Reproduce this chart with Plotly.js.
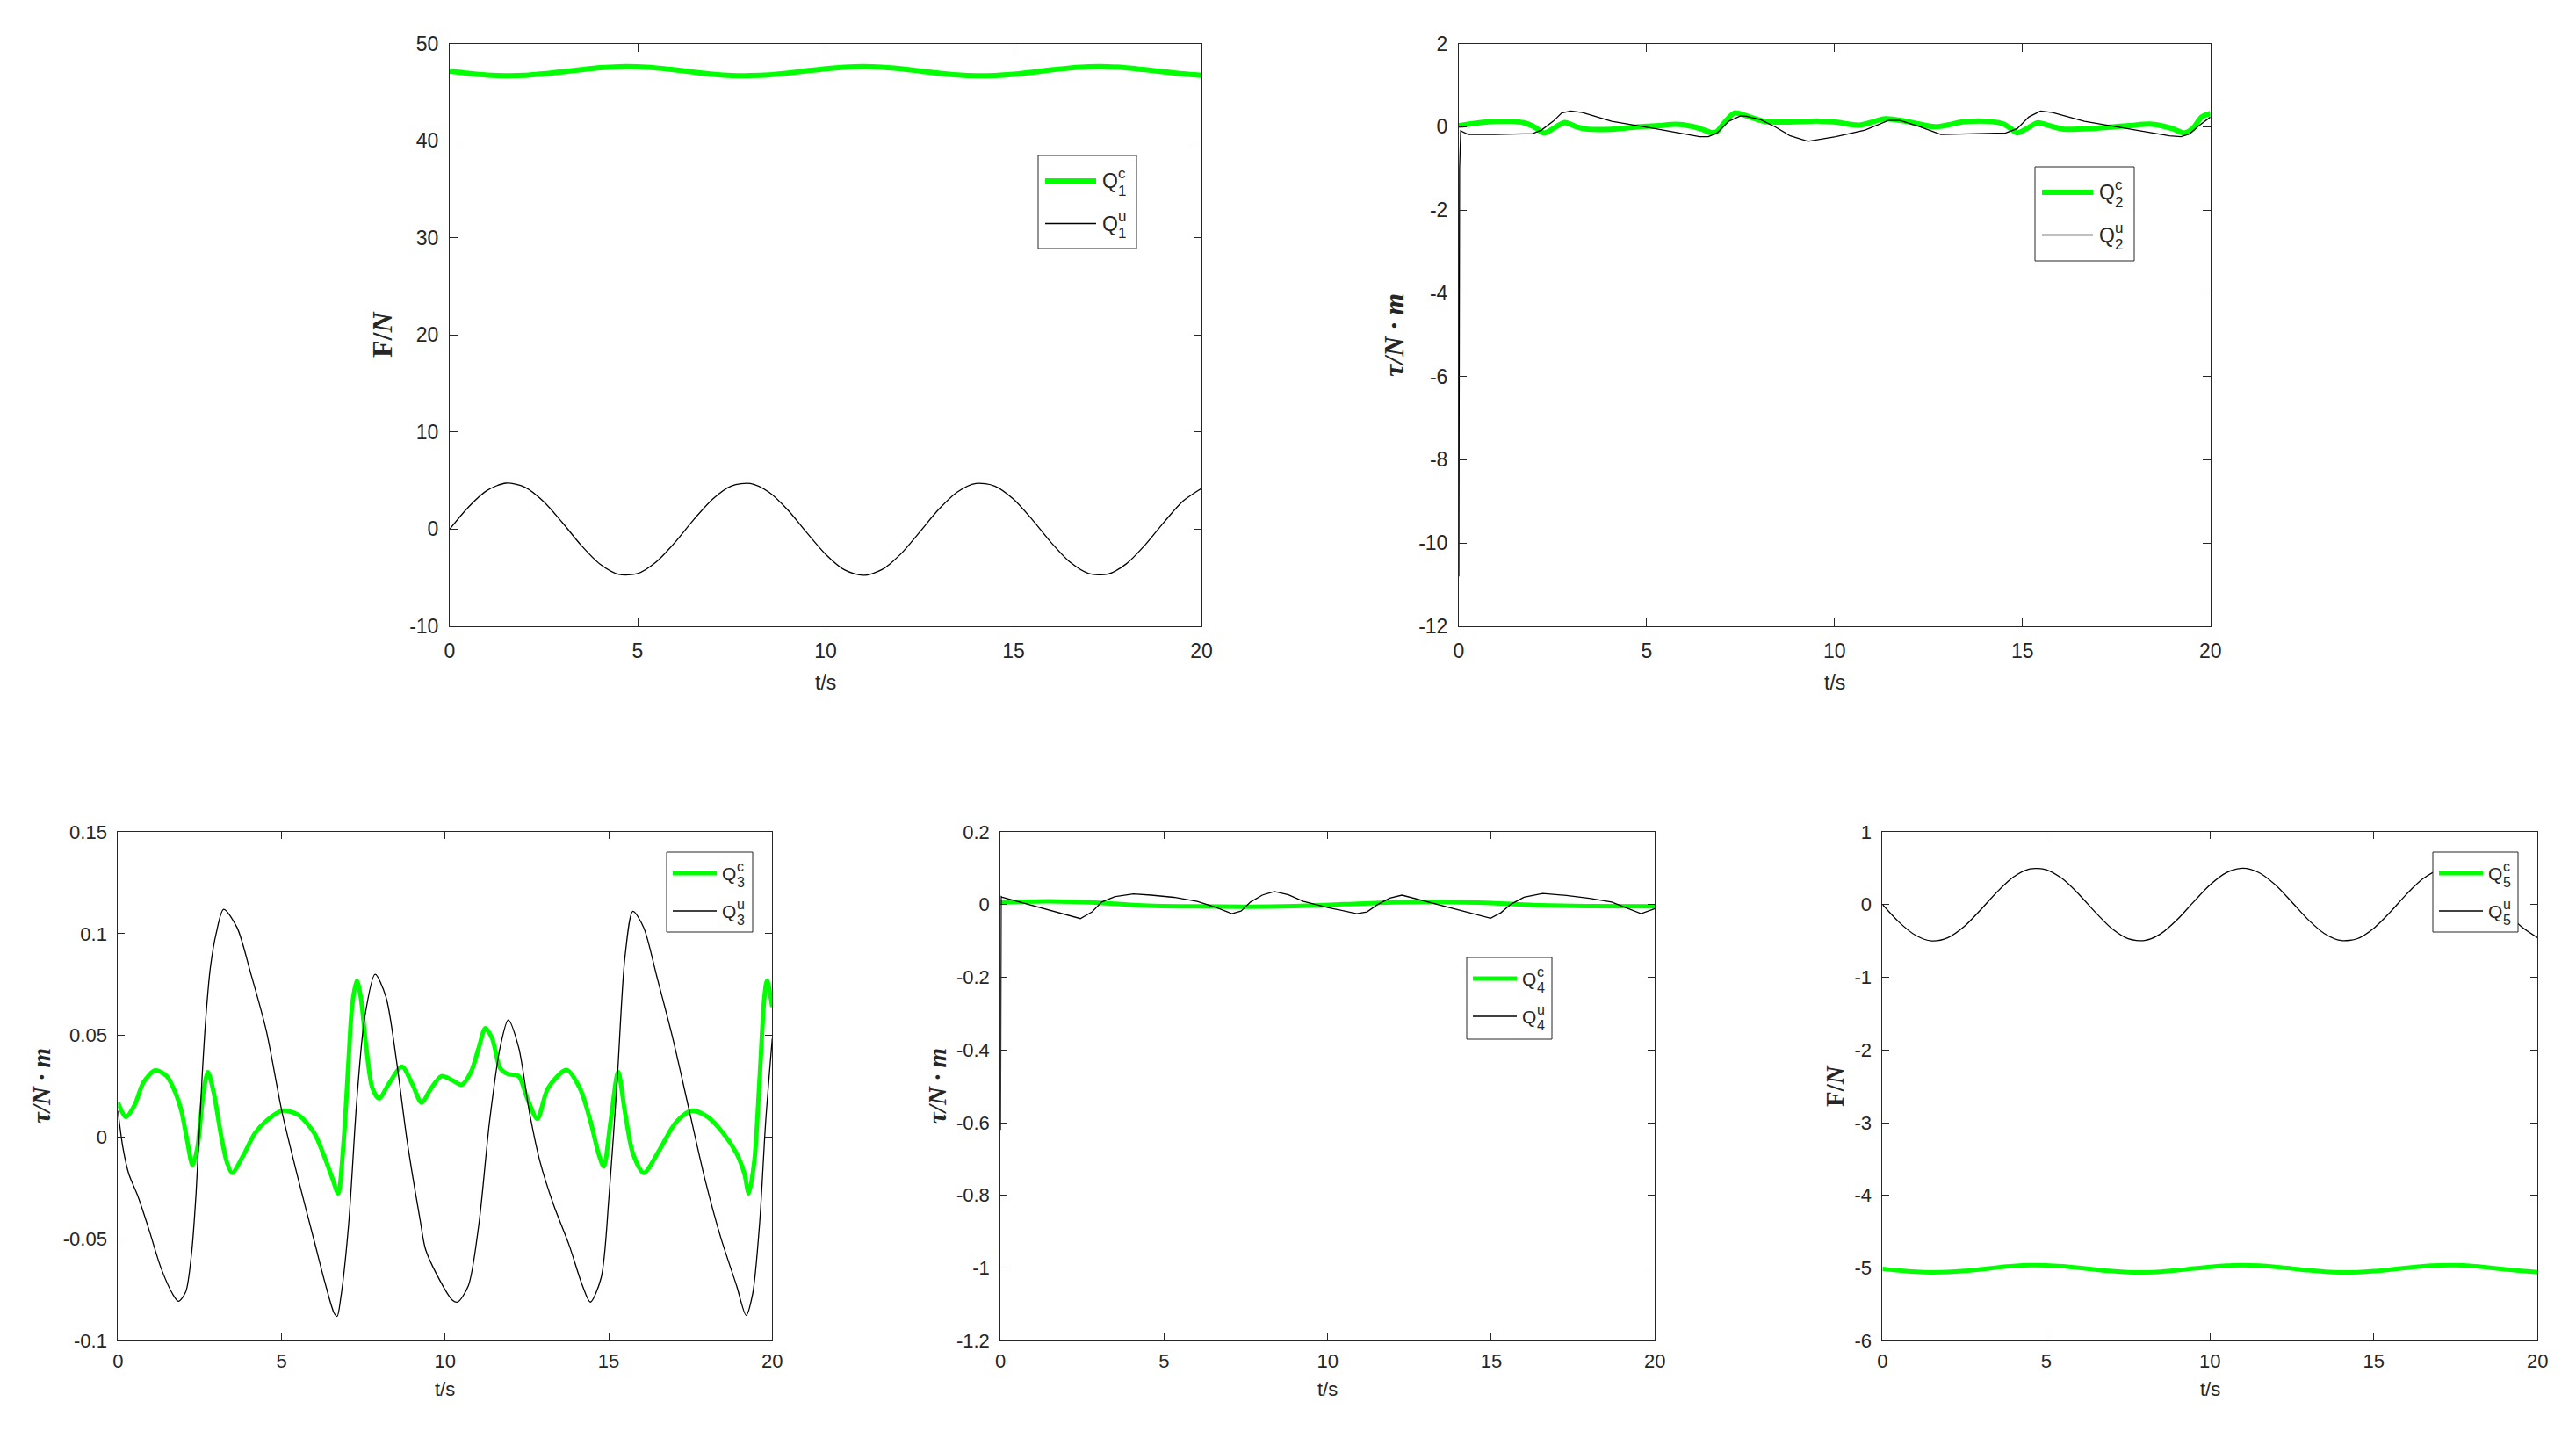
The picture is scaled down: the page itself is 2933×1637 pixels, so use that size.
<!DOCTYPE html>
<html><head><meta charset="utf-8">
<script src="https://cdn.plot.ly/plotly-3.0.1.min.js"></script>
<style>html,body{margin:0;padding:0;background:#fff;overflow:hidden}</style>
</head><body><div id="chart" style="width:2933px;height:1637px"></div>
<script>
// ---------------- DATA ----------------
const t1 = [0,0.5,1,1.5,2,2.5,3,3.5,4,4.5,5,5.5,6,6.5,7,7.5,8,8.5,9,9.5,10,10.5,11,11.5,12,12.5,13,13.5,14,14.5,15,15.5,16,16.5,17,17.5,18,18.5,19,19.5,20];
const q1c = [47.15,46.92,46.75,46.68,46.72,46.87,47.08,47.31,47.51,47.61,47.6,47.48,47.28,47.05,46.84,46.71,46.69,46.77,46.96,47.19,47.41,47.56,47.62,47.56,47.4,47.18,46.95,46.77,46.68,46.71,46.84,47.05,47.29,47.48,47.6,47.61,47.5,47.31,47.08,46.87,46.72];
const q1u = [0,2.28,4.0,4.74,4.32,2.84,0.67,-1.67,-3.6,-4.65,-4.56,-3.35,-1.33,1.02,3.12,4.46,4.7,3.79,1.96,-0.36,-2.58,-4.18,-4.75,-4.16,-2.55,-0.31,2.0,3.82,4.71,4.44,3.09,0.98,-1.37,-3.38,-4.56,-4.64,-3.57,-1.62,0.71,2.87,4.2];

const t2c = [0,0.5,1.03,1.4,1.73,2.0,2.27,2.51,2.82,3.13,3.44,4.07,4.69,5.31,5.78,6.25,6.5,6.72,6.87,7.03,7.34,7.65,8.12,8.59,9.0,9.52,10.03,10.65,11.35,11.9,12.68,13.46,14.08,14.47,14.7,14.86,15.1,15.41,15.64,16.11,16.88,17.82,18.45,18.99,19.3,19.53,19.77,20];
const q2c = [0.025,0.09,0.13,0.13,0.095,0.0,-0.15,-0.045,0.10,0.0,-0.06,-0.06,-0.01,0.025,0.06,0.0,-0.07,-0.14,-0.115,0.06,0.33,0.26,0.13,0.11,0.12,0.14,0.11,0.04,0.19,0.13,0.0,0.12,0.13,0.074,-0.05,-0.15,-0.05,0.095,0.046,-0.06,-0.04,0.025,0.06,-0.045,-0.15,-0.045,0.235,0.32];
const t2u = [0,0.02,0.05,0.25,0.95,1.96,2.2,2.51,2.74,2.98,3.29,4.07,5.31,6.41,6.64,6.87,7.18,7.5,7.65,8.04,8.43,8.82,9.29,9.6,10.03,10.81,11.43,11.74,12.21,12.83,13.53,14.55,14.86,15.17,15.48,15.8,16.65,17.82,18.91,19.22,19.45,19.69,20];
const q2u = [-10.8,-1.0,-0.1,-0.185,-0.185,-0.165,-0.08,0.13,0.33,0.376,0.34,0.13,-0.06,-0.24,-0.24,-0.15,0.13,0.26,0.25,0.165,-0.01,-0.22,-0.35,-0.31,-0.24,-0.08,0.15,0.15,0.02,-0.185,-0.17,-0.15,-0.045,0.235,0.376,0.34,0.13,-0.045,-0.22,-0.24,-0.17,0.02,0.23];

const t3c = [0,0.24,0.51,0.78,1.14,1.49,1.76,1.94,2.12,2.28,2.43,2.61,2.75,2.93,3.15,3.33,3.49,3.82,4.18,4.53,5.02,5.51,6.0,6.32,6.56,6.73,6.89,7.05,7.16,7.3,7.42,7.59,7.78,7.98,8.27,8.68,9.0,9.28,9.57,9.89,10.22,10.51,10.79,11.03,11.23,11.44,11.68,11.93,12.25,12.49,12.82,13.14,13.71,14.12,14.44,14.69,14.85,15.06,15.29,15.5,15.74,16.07,16.56,17.04,17.53,18.02,18.5,18.91,19.15,19.28,19.45,19.61,19.76,19.84,20];
const q3c = [0.017,0.0099,0.0158,0.027,0.0328,0.030,0.0217,0.0129,-0.002,-0.0138,-0.005,0.0217,0.032,0.0217,0.001,-0.0123,-0.0175,-0.0093,0.0018,0.008,0.013,0.011,0.002,-0.010,-0.0205,-0.0276,-0.004,0.038,0.065,0.077,0.069,0.044,0.024,0.019,0.026,0.0347,0.026,0.017,0.024,0.030,0.028,0.0258,0.032,0.044,0.0536,0.0485,0.034,0.031,0.030,0.020,0.009,0.024,0.033,0.024,0.008,-0.008,-0.0144,0.008,0.032,0.012,-0.008,-0.0175,-0.006,0.007,0.013,0.010,0.002,-0.008,-0.018,-0.0276,-0.012,0.028,0.069,0.077,0.064];
const t3u = [0,0.15,0.33,0.6,0.96,1.31,1.67,1.85,2.07,2.25,2.39,2.57,2.7,2.83,3.0,3.23,3.64,4.05,4.53,5.02,5.51,6.0,6.32,6.61,6.7,6.81,7.05,7.3,7.54,7.86,8.19,8.51,8.84,9.24,9.4,9.73,10.22,10.38,10.71,11.03,11.36,11.68,11.93,12.25,12.58,12.9,13.31,13.79,14.2,14.44,14.77,15.01,15.26,15.5,15.74,16.07,16.47,16.96,17.45,17.94,18.42,18.91,19.2,19.4,19.61,19.8,20];
const q3u = [0.013,-0.005,-0.018,-0.0286,-0.046,-0.064,-0.077,-0.0806,-0.076,-0.057,-0.027,0.029,0.0617,0.084,0.1,0.112,0.103,0.081,0.0526,0.012,-0.0205,-0.051,-0.071,-0.0865,-0.088,-0.079,-0.043,0.018,0.0586,0.08,0.069,0.038,-0.002,-0.041,-0.055,-0.067,-0.080,-0.081,-0.073,-0.043,0.008,0.044,0.0576,0.044,0.012,-0.012,-0.033,-0.053,-0.073,-0.081,-0.069,-0.029,0.028,0.089,0.111,0.103,0.079,0.0485,0.014,-0.0205,-0.049,-0.073,-0.0875,-0.077,-0.043,0.008,0.0485];

const t4c = [0,1.5,3.0,4.5,6.0,7.5,9.0,10.5,12.0,13.5,15.0,16.5,18.0,20];
const q4c = [0.006,0.009,0.005,-0.003,-0.005,-0.006,-0.004,0.001,0.006,0.007,0.004,-0.002,-0.004,-0.005];
const t4u = [0,0.02,0.05,1.0,2.0,2.44,2.8,3.09,3.5,4.06,4.6,5.3,6.01,6.6,7.07,7.35,7.64,8.0,8.37,8.8,9.26,10.0,10.89,11.2,11.54,11.9,12.27,12.8,13.6,14.4,14.98,15.3,15.6,16.0,16.57,17.3,18.0,18.68,19.2,19.58,20];
const q4u = [-0.62,0.022,0.0205,-0.003,-0.028,-0.0386,-0.02,0.007,0.022,0.0295,0.026,0.02,0.009,-0.008,-0.025,-0.018,0.007,0.026,0.036,0.027,0.009,-0.008,-0.025,-0.02,0.001,0.018,0.026,0.0136,-0.005,-0.024,-0.0375,-0.022,0.001,0.02,0.0307,0.025,0.017,0.007,-0.012,-0.025,-0.011];

const t5 = t1;
const q5c = [-5.01,-5.034,-5.052,-5.06,-5.055,-5.04,-5.017,-4.992,-4.972,-4.961,-4.962,-4.975,-4.996,-5.021,-5.043,-5.057,-5.059,-5.05,-5.031,-5.006,-4.983,-4.966,-4.96,-4.966,-4.983,-5.007,-5.031,-5.05,-5.06,-5.057,-5.043,-5.02,-4.996,-4.974,-4.962,-4.961,-4.972,-4.993,-5.017,-5.04,-5.056];
const q5u = [0,-0.24,-0.42,-0.5,-0.455,-0.3,-0.07,0.175,0.38,0.49,0.48,0.353,0.14,-0.107,-0.33,-0.47,-0.495,-0.4,-0.206,0.038,0.272,0.44,0.5,0.438,0.268,0.033,-0.21,-0.402,-0.495,-0.468,-0.325,-0.104,0.144,0.356,0.48,0.488,0.376,0.171,-0.075,-0.302,-0.456];

const xTickVals = [0,5,10,15,20];
const xTickText = ['0','5','10','15','20'];
const y1Vals = [-10,0,10,20,30,40,50];
const y1Text = ['-10','0','10','20','30','40','50'];
const y2Vals = [-12,-10,-8,-6,-4,-2,0,2];
const y2Text = ['-12','-10','-8','-6','-4','-2','0','2'];
const y3Vals = [-0.1,-0.05,0,0.05,0.1,0.15];
const y3Text = ['-0.1','-0.05','0','0.05','0.1','0.15'];
const y4Vals = [-1.2,-1,-0.8,-0.6,-0.4,-0.2,0,0.2];
const y4Text = ['-1.2','-1','-0.8','-0.6','-0.4','-0.2','0','0.2'];
const y5Vals = [-6,-5,-4,-3,-2,-1,0,1];
const y5Text = ['-6','-5','-4','-3','-2','-1','0','1'];

// legend labels: Q with stacked superscript (c / u) and subscript (joint index)
const legBase = 'Q';
const legSubs = ['1','2','3','4','5'];
const legSups = ['c','u'];
const yLabels = ['<b>F/<i>N</i></b>','<b><i>τ/N · m</i></b>','<b><i>τ/N · m</i></b>','<b><i>τ/N · m</i></b>','<b>F/<i>N</i></b>'];
const xLabel = 't/s';

// ---------------- LAYOUT ----------------
const W = 2933, H = 1637;
const GREEN = '#00ff00', BLACK = '#000000', INK = '#262626';
const FONT = 'Liberation Sans, Arial, sans-serif';
const boxes = [
  {l:512, r:1368, t:49.5, b:713},
  {l:1661, r:2516.7, t:49.5, b:713},
  {l:134.3, r:879.3, t:947, b:1526.3},
  {l:1139.2, r:1884.2, t:947, b:1526.3},
  {l:2143.4, r:2889.3, t:947, b:1526.3}
];
// legend boxes (pixel, top-left + size)
const legBoxes = [
  {l:1182, t:177, w:112, h:106},
  {l:2317, t:190, w:113, h:107},
  {l:759, t:970, w:98, h:91},
  {l:1670, t:1090, w:97, h:93},
  {l:2770, t:970, w:97, h:91}
];
const legGeom = {
  big:   {rows:[29, 77.5], line:[8, 66], qx:71.5, qfs:23, sfs:17, supDy:-8.5, subDy:11.5, gw:6},
  small: {rows:[24, 67],   line:[7, 57], qx:62,   qfs:21, sfs:16, supDy:-7.5, subDy:10.5, gw:5}
};
const yLabPos = [[435,381],[1587,381],[47,1236],[1067,1236],[2089,1236]];
const xLabY = [777,777,1581,1581,1581];
const isTopRow = [true,true,false,false,false];

const series = [
  {tc:t1, c:q1c, tu:t1, u:q1u, yv:y1Vals, yt:y1Text, yr:[-10,50], sc:'spline', su:'spline'},
  {tc:t2c, c:q2c, tu:t2u, u:q2u, yv:y2Vals, yt:y2Text, yr:[-12,2], sc:'spline', su:'linear'},
  {tc:t3c, c:q3c, tu:t3u, u:q3u, yv:y3Vals, yt:y3Text, yr:[-0.1,0.15], sc:'spline', su:'spline'},
  {tc:t4c, c:q4c, tu:t4u, u:q4u, yv:y4Vals, yt:y4Text, yr:[-1.2,0.2], sc:'spline', su:'linear'},
  {tc:t5, c:q5c, tu:t5, u:q5u, yv:y5Vals, yt:y5Text, yr:[-6,1], sc:'spline', su:'spline'}
];

const PX = x => x / W, PY = y => 1 - y / H;
const traces = [];
const shapes = [];
const annotations = [];
const layout = {
  width: W, height: H, margin: {l:0, r:0, t:0, b:0},
  paper_bgcolor: '#ffffff', plot_bgcolor: '#ffffff',
  showlegend: false, shapes: shapes, annotations: annotations
};

series.forEach((s, i) => {
  const n = i + 1;
  const sfx = n === 1 ? '' : String(n);
  const xa = 'x' + sfx, ya = 'y' + sfx;
  const big = isTopRow[i];
  const b = boxes[i];
  const fs = big ? 23 : 22;
  const g = big ? legGeom.big : legGeom.small;
  traces.push({x: s.tc, y: s.c, xaxis: xa, yaxis: ya, type: 'scatter', mode: 'lines',
    name: legBase + legSups[0] + legSubs[i], showlegend: false,
    line: {color: GREEN, width: g.gw, shape: s.sc, smoothing: 0.8}});
  traces.push({x: s.tu, y: s.u, xaxis: xa, yaxis: ya, type: 'scatter', mode: 'lines',
    name: legBase + legSups[1] + legSubs[i], showlegend: false,
    line: {color: BLACK, width: 1.3, shape: s.su, smoothing: 0.8}});
  const common = {showline: true, linecolor: INK, linewidth: 1, mirror: 'ticks',
    ticks: 'inside', ticklen: big ? 9 : 8, tickcolor: INK, tickwidth: 1,
    showgrid: false, zeroline: false, fixedrange: true,
    tickfont: {family: FONT, size: fs, color: INK}};
  layout['xaxis' + sfx] = Object.assign({}, common, {
    domain: [PX(b.l), PX(b.r)], anchor: ya, range: [0, 20],
    tickmode: 'array', tickvals: xTickVals, ticktext: xTickText,
    ticklabelstandoff: big ? 7 : 3});
  layout['yaxis' + sfx] = Object.assign({}, common, {
    domain: [PY(b.b), PY(b.t)], anchor: xa, range: s.yr,
    tickmode: 'array', tickvals: s.yv, ticktext: s.yt,
    ticklabelstandoff: 7});

  // axis titles
  annotations.push({xref: 'paper', yref: 'paper', x: PX(yLabPos[i][0]), y: PY(yLabPos[i][1]),
    xanchor: 'center', yanchor: 'middle', textangle: -90, showarrow: false, text: yLabels[i],
    font: {family: 'Liberation Serif, DejaVu Serif, serif', size: big ? 32 : 29, color: INK}});
  annotations.push({xref: 'paper', yref: 'paper', x: PX((b.l + b.r) / 2), y: PY(xLabY[i]),
    xanchor: 'center', yanchor: 'middle', showarrow: false, text: xLabel,
    font: {family: FONT, size: fs, color: INK}});

  // boxed legend
  const L = legBoxes[i];
  shapes.push({type: 'rect', xref: 'paper', yref: 'paper', layer: 'above',
    x0: PX(L.l), x1: PX(L.l + L.w), y0: PY(L.t + L.h), y1: PY(L.t),
    fillcolor: '#ffffff', line: {color: INK, width: 1}});
  [[GREEN, g.gw], [BLACK, 1.3]].forEach((st, k) => {
    const ry = L.t + g.rows[k];
    shapes.push({type: 'line', xref: 'paper', yref: 'paper', layer: 'above',
      x0: PX(L.l + g.line[0]), x1: PX(L.l + g.line[1]), y0: PY(ry), y1: PY(ry),
      line: {color: st[0], width: st[1]}});
    annotations.push({xref: 'paper', yref: 'paper', x: PX(L.l + g.qx), y: PY(ry),
      xanchor: 'left', yanchor: 'middle', showarrow: false, borderpad: 0, text: legBase,
      font: {family: FONT, size: g.qfs, color: INK}});
    const sx = L.l + g.qx + g.qfs * 0.8;
    annotations.push({xref: 'paper', yref: 'paper', x: PX(sx), y: PY(ry + g.supDy),
      xanchor: 'left', yanchor: 'middle', showarrow: false, borderpad: 0, text: legSups[k],
      font: {family: FONT, size: g.sfs, color: INK}});
    annotations.push({xref: 'paper', yref: 'paper', x: PX(sx), y: PY(ry + g.subDy),
      xanchor: 'left', yanchor: 'middle', showarrow: false, borderpad: 0, text: legSubs[i],
      font: {family: FONT, size: g.sfs, color: INK}});
  });
});

Plotly.newPlot('chart', traces, layout, {staticPlot: true, displayModeBar: false});
</script>
</body></html>
